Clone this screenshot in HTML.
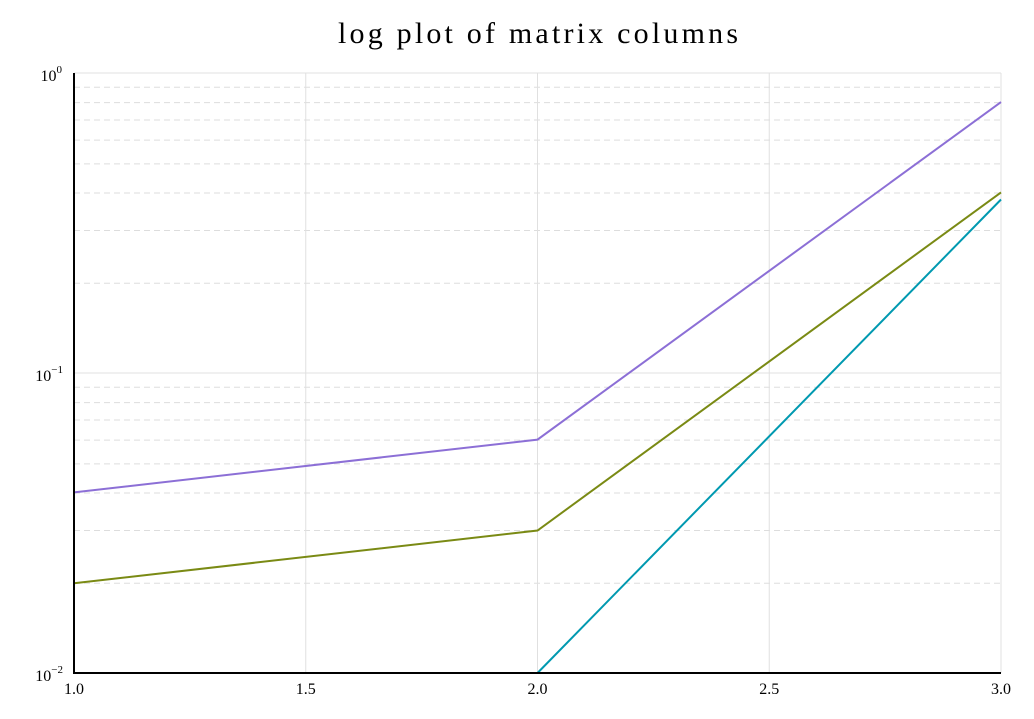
<!DOCTYPE html>
<html><head><style>body{margin:0;background:#fff}</style></head><body>
<svg width="1034" height="714" xmlns="http://www.w3.org/2000/svg" font-family="Liberation Serif, serif">
<rect width="1034" height="714" fill="#fff"/>
<text x="538" y="43" font-size="30" text-anchor="middle" textLength="400">log plot of matrix columns</text>
<g stroke="#ddd" stroke-width="1" stroke-dasharray="6,4">
<line x1="74" x2="1001" y1="583.3" y2="583.3"/><line x1="74" x2="1001" y1="530.5" y2="530.5"/><line x1="74" x2="1001" y1="493" y2="493"/><line x1="74" x2="1001" y1="463.9" y2="463.9"/><line x1="74" x2="1001" y1="440.1" y2="440.1"/><line x1="74" x2="1001" y1="420" y2="420"/><line x1="74" x2="1001" y1="402.6" y2="402.6"/><line x1="74" x2="1001" y1="387.3" y2="387.3"/>
<line x1="74" x2="1001" y1="283.3" y2="283.3"/><line x1="74" x2="1001" y1="230.5" y2="230.5"/><line x1="74" x2="1001" y1="193" y2="193"/><line x1="74" x2="1001" y1="163.9" y2="163.9"/><line x1="74" x2="1001" y1="140.1" y2="140.1"/><line x1="74" x2="1001" y1="120" y2="120"/><line x1="74" x2="1001" y1="102.6" y2="102.6"/><line x1="74" x2="1001" y1="87.3" y2="87.3"/>
</g>
<g stroke="#e0e0e0" stroke-width="1">
<line x1="74" x2="1001" y1="373" y2="373"/>
<line x1="305.75" x2="305.75" y1="73" y2="673"/><line x1="537.5" x2="537.5" y1="73" y2="673"/><line x1="769.25" x2="769.25" y1="73" y2="673"/>
<line x1="74" x2="1001" y1="73" y2="73"/><line x1="1001" x2="1001" y1="73" y2="673"/>
</g>
<g fill="none" stroke-width="2">
<polyline stroke="#8c6fd6" points="74,492.4 537.5,439.6 1001,102.1"/>
<polyline stroke="#7a8a14" points="74,583.3 537.5,530.5 1001,192.4"/>
<polyline stroke="#0099b0" points="537.5,673 1001,199.5"/>
</g>
<g stroke="#000" stroke-width="2"><line x1="74" x2="74" y1="73" y2="674"/><line x1="73" x2="1001" y1="673" y2="673"/></g>
<g font-size="16" text-anchor="middle">
<text x="74" y="694">1.0</text><text x="305.75" y="694">1.5</text><text x="537.5" y="694">2.0</text><text x="769.25" y="694">2.5</text><text x="1001" y="694">3.0</text>
</g>
<g font-size="16" text-anchor="end">
<text x="62" y="81">10<tspan font-size="11" dy="-8">0</tspan></text>
<text x="63" y="381">10<tspan font-size="11" dy="-8">−1</tspan></text>
<text x="63" y="681">10<tspan font-size="11" dy="-8">−2</tspan></text>
</g>
</svg>
</body></html>
